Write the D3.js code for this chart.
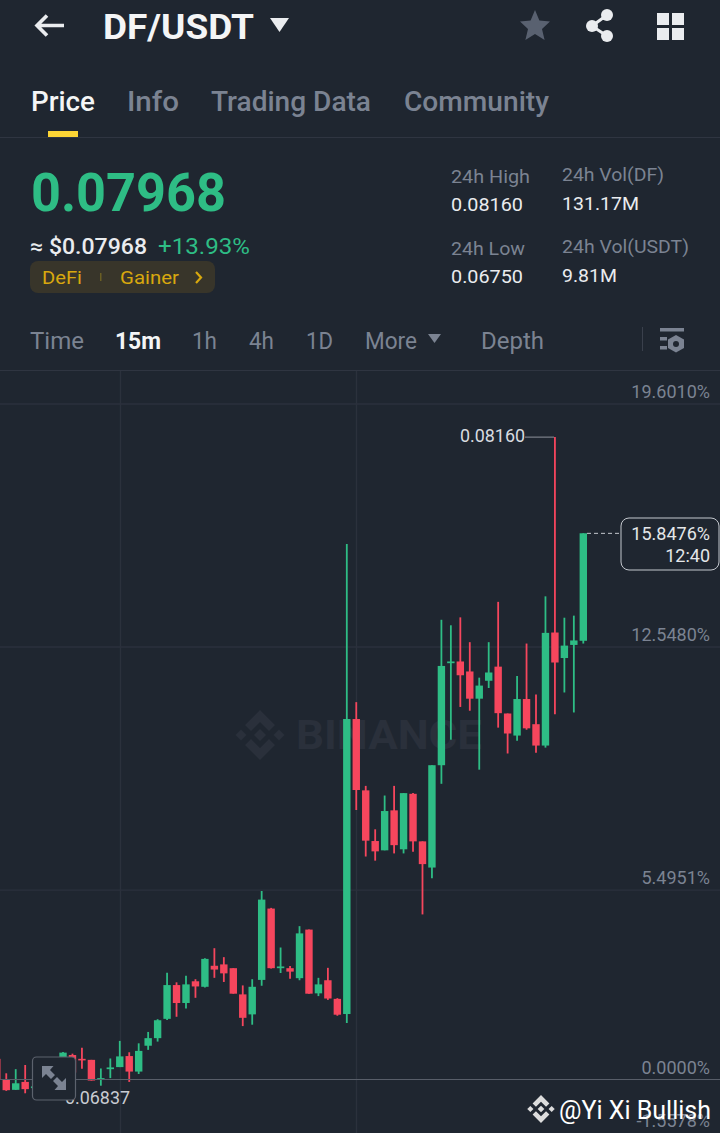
<!DOCTYPE html>
<html><head><meta charset="utf-8">
<script src="https://cdn.jsdelivr.net/npm/d3@7"></script>
<style>html,body{margin:0;padding:0;background:#1f2630;overflow:hidden}svg{display:block}text{font-family:Roboto,"Noto Sans",sans-serif}</style>
</head><body><svg id="c" width="720" height="1133"></svg>
<script>
// Candle values, % change from the chart's baseline
const opens =[.60,-.01,-.30,-.07,-.25,-.20,.15,.30,.71,.60,.57,0,.30,.36,.68,.23,.98,1.20,1.76,2.74,2.22,2.85,2.69,3.30,3.34,3.23,2.47,1.89,2.89,4.96,3.23,3.23,2.94,4.35,2.50,2.88,2.34,1.90,10.46,8.39,6.92,6.65,7.81,6.68,8.29,6.91,6.15,9.12,12.08,12.13,11.84,11.05,11.57,11.98,10.62,9.98,11.04,10.31,9.69,12.97,12.23,12.61,12.73];
const closes=[-.01,-.31,-.11,-.28,-.20,.15,.30,.78,.20,.57,-.03,.04,.35,.67,.23,.83,1.20,1.72,2.74,2.22,2.76,2.70,3.50,3.19,3.08,2.49,1.79,2.69,5.22,3.23,3.28,3.13,4.24,2.49,2.76,2.35,1.88,10.46,8.40,6.93,6.62,7.79,6.80,8.31,6.91,6.25,9.12,12.00,12.13,11.73,11.05,11.43,11.81,10.63,10.04,11.04,10.19,9.69,12.96,12.10,12.59,12.74,15.85];
const highs =[.60,.18,.30,.42,-.10,.30,.50,.80,.75,.92,.57,.32,.61,1.12,.79,1.05,1.38,1.75,3.10,2.82,3.01,2.91,3.52,3.81,3.55,3.23,2.73,2.91,5.47,4.98,3.83,3.29,4.45,4.35,2.95,3.24,2.36,15.54,10.95,8.52,7.26,8.24,8.52,8.31,8.31,6.91,9.12,13.34,13.18,13.41,12.69,11.66,12.69,13.86,10.62,11.71,12.65,11.17,14.02,18.64,13.40,13.46,15.85];
const lows  =[-.01,-.33,-.30,-.40,-.30,-.25,.10,.20,.10,.31,-.03,-.18,.04,.36,-.07,.16,.86,1.10,1.73,1.82,2.06,2.37,2.67,2.95,2.83,2.49,1.55,1.59,2.72,3.22,3.09,2.92,2.88,2.49,2.42,2.31,1.85,1.64,7.82,6.47,6.35,6.65,6.56,6.56,6.61,4.79,5.84,8.58,9.86,10.81,10.70,8.99,11.36,10.21,9.46,9.83,10.15,9.48,9.63,10.60,11.23,10.65,12.65];
const percentTicks=[19.6010,12.5480,5.4951,0,-1.5578];
const tickLabels=["19.6010%","12.5480%","5.4951%","0.0000%","-1.5578%"];
const lastPct=15.8476, highPct=18.64;

const BG="#1f2630",GREEN="#2ebd85",RED="#f6465d",GRAY="#7b8392",WHITE="#eaecef",GRID="#2b313c";
const svg=d3.select("#c");
svg.append("rect").attr("width",720).attr("height",1133).attr("fill",BG);
const x=d3.scaleLinear().domain([0,62]).range([-3.2,583.3]);
const y=d3.scaleLinear().domain([0,19.601]).range([1079.5,404]);
const bodyW=7.4;

function t(px,py,str,size,fill,weight,w,anchor){
  const e=svg.append("text").attr("x",px).attr("y",py).text(str).attr("font-size",size).attr("fill",fill).attr("font-weight",weight||400);
  if(w)e.attr("textLength",w).attr("lengthAdjust","spacingAndGlyphs");
  if(anchor)e.attr("text-anchor",anchor);
  return e;
}
// ---- header
svg.append("path").attr("d","M64 25.5H38M47 15.5L37 25.5L47 35.5").attr("fill","none").attr("stroke",WHITE).attr("stroke-width",3.6);
t(103,39,"DF/USDT",35,"#f4f5f6",700,151);
svg.append("path").attr("d","M270 18H289L279.5 32Z").attr("fill",WHITE);
svg.append("path").attr("d","M535 10L539.4 20.6L550 21.6L542 29L544.6 40L535 34L525.4 40L528 29L520 21.6L530.6 20.6Z").attr("fill","#596170");
const share=svg.append("g").attr("fill",WHITE);
[[607,15],[592,26],[607,36]].forEach(p=>share.append("circle").attr("cx",p[0]).attr("cy",p[1]).attr("r",6));
svg.append("path").attr("d","M607 15L592 26L607 36").attr("fill","none").attr("stroke",WHITE).attr("stroke-width",3);
[[657,13],[672,13],[657,28],[672,28]].forEach(p=>svg.append("rect").attr("x",p[0]).attr("y",p[1]).attr("width",12).attr("height",12).attr("fill",WHITE));
t(31,111,"Price",28,"#f4f5f6",500,64);
t(127,111,"Info",28,GRAY,500,52);
t(211,111,"Trading Data",28,GRAY,500,160);
t(404,111,"Community",28,GRAY,500,145);
svg.append("rect").attr("x",48).attr("y",131).attr("width",30).attr("height",6).attr("fill","#fcd535");
svg.append("rect").attr("x",0).attr("y",137).attr("width",720).attr("height",1).attr("fill","#2f3541");
// ---- price block
t(31,211,"0.07968",54,GREEN,700,195);
t(30,254,"≈ $0.07968",22,WHITE,500,117);
t(158,254,"+13.93%",22,GREEN,400,92);
svg.append("rect").attr("x",30).attr("y",261).attr("width",185).attr("height",32).attr("rx",8).attr("fill","#38352a");
t(42,284,"DeFi",19,"#d8a80e",400,40);
svg.append("rect").attr("x",100).attr("y",273).attr("width",1.5).attr("height",8).attr("fill","#6b5f24");
t(120,284,"Gainer",19,"#d8a80e",400,59);
svg.append("path").attr("d","M196 272L201 277.5L196 283").attr("fill","none").attr("stroke","#d8a80e").attr("stroke-width",2.2);
t(451,183,"24h High",19,GRAY,400,79);
t(451,211,"0.08160",18,WHITE,400,72);
t(562,181,"24h Vol(DF)",19,GRAY,400,102);
t(562,210,"131.17M",18,WHITE,400,77);
t(451,255,"24h Low",19,GRAY,400,74);
t(451,283,"0.06750",18,WHITE,400,72);
t(562,253,"24h Vol(USDT)",19,GRAY,400,127);
t(562,282,"9.81M",18,WHITE,400,55);
// ---- interval row
t(30,349,"Time",24,GRAY,400,54);
t(115,349,"15m",24,"#f4f5f6",700,46);
t(192,349,"1h",24,GRAY,400,25);
t(249,349,"4h",24,GRAY,400,25);
t(306,349,"1D",24,GRAY,400,27);
t(365,349,"More",24,GRAY,400,52);
svg.append("path").attr("d","M428 334H441L434.5 343Z").attr("fill",GRAY);
t(481,349,"Depth",24,GRAY,400,63);
svg.append("rect").attr("x",642).attr("y",327).attr("width",1).attr("height",24).attr("fill","#3a404c");
svg.append("rect").attr("x",660).attr("y",328).attr("width",24).attr("height",3.5).attr("fill",GRAY);
svg.append("rect").attr("x",660).attr("y",337).attr("width",7).attr("height",3.5).attr("fill",GRAY);
svg.append("rect").attr("x",660).attr("y",346).attr("width",7).attr("height",3.5).attr("fill",GRAY);
svg.append("path").attr("d","M676 335L684 339.5V348L676 352.5L668 348V339.5Z").attr("fill",GRAY);
svg.append("circle").attr("cx",676).attr("cy",344).attr("r",3).attr("fill",BG);
svg.append("rect").attr("x",0).attr("y",370).attr("width",720).attr("height",1).attr("fill","#2f3541");
// ---- grid
const grid=svg.append("g");
[120.5,356.5].forEach(v=>grid.append("line").attr("x1",v).attr("x2",v).attr("y1",371).attr("y2",1133).attr("stroke",GRID).attr("stroke-width",1.4));
percentTicks.slice(0,3).forEach(v=>grid.append("line").attr("x1",0).attr("x2",720).attr("y1",y(v)).attr("y2",y(v)).attr("stroke",GRID).attr("stroke-width",1.4));
// ---- logo: two chevrons, two side diamonds, a centre diamond
const logo=(g,cx,cy,s)=>{
  const poly=pts=>g.append("path").attr("d","M"+pts.map(p=>`${cx+p[0]*s} ${cy+p[1]*s}`).join("L")+"Z");
  poly([[0,-1],[.6,-.4],[.36,-.16],[0,-.52],[-.36,-.16],[-.6,-.4]]);
  poly([[0,1],[.6,.4],[.36,.16],[0,.52],[-.36,.16],[-.6,.4]]);
  const d=(dx,r)=>poly([[dx,-r],[dx+r,0],[dx,r],[dx-r,0]]);
  d(0,.24);d(-.76,.22);d(.76,.22);
};
// ---- watermark
const wm=svg.append("g").attr("fill","#2a303b");
logo(wm,260,735,25);
wm.append("text").attr("x",296).attr("y",749).text("BINANCE").attr("font-size",40).attr("font-weight",700).attr("textLength",186).attr("lengthAdjust","spacingAndGlyphs");
// ---- candles
const idx=d3.range(opens.length);
const colour=i=>closes[i]>=opens[i]?GREEN:RED;
const candles=svg.append("g");
candles.selectAll("line").data(idx).join("line")
  .attr("x1",x).attr("x2",x).attr("y1",i=>y(highs[i])).attr("y2",i=>y(lows[i]))
  .attr("stroke",colour).attr("stroke-width",1.8);
candles.selectAll("rect").data(idx).join("rect")
  .attr("x",i=>x(i)-bodyW/2).attr("width",bodyW)
  .attr("y",i=>y(Math.max(opens[i],closes[i])))
  .attr("height",i=>Math.max(1.6,Math.abs(y(opens[i])-y(closes[i]))))
  .attr("fill",colour);
// ---- zero line over candles
svg.append("line").attr("x1",0).attr("x2",720).attr("y1",y(0)).attr("y2",y(0)).attr("stroke","#585e69").attr("stroke-width",1.2);
// ---- axis labels
percentTicks.forEach((v,i)=>t(710,y(v)-6,tickLabels[i],18,GRAY,400,null,"end"));
// ---- high marker
svg.append("line").attr("x1",525).attr("x2",554).attr("y1",y(highPct)).attr("y2",y(highPct)).attr("stroke","#8d929b").attr("stroke-width",1);
t(460,442,"0.08160",18,"#d8dce0",400,65);
// ---- last price box
svg.append("line").attr("x1",587).attr("x2",621).attr("y1",y(lastPct)).attr("y2",y(lastPct)).attr("stroke","#c4c8ce").attr("stroke-width",1).attr("stroke-dasharray","4 3");
svg.append("rect").attr("x",621).attr("y",518).attr("width",98).attr("height",52).attr("rx",8).attr("fill",BG).attr("stroke","#c4c8ce").attr("stroke-width",1);
t(710,540,"15.8476%",18,"#e4e6e9",400,null,"end");
t(710,562,"12:40",18,"#e4e6e9",400,null,"end");
// ---- low label + expand button
t(65,1104,"0.06837",18,"#c8ccd2",400,65);
svg.append("rect").attr("x",32.5).attr("y",1057).attr("width",43).attr("height",43).attr("rx",4).attr("fill",BG).attr("stroke","#5c626d").attr("stroke-width",1.2);
svg.append("path").attr("d","M42 1066H53.5L50 1070L55 1075L51 1079L46 1074L42 1078Z").attr("fill","#7b8392");
svg.append("path").attr("d","M66 1090H54.5L58 1086L53 1081L57 1077L62 1082L66 1078Z").attr("fill","#7b8392");
// ---- credit
const cr=svg.append("g").attr("fill","#dcdcdc");
logo(cr,541,1109,14);
t(559,1119,"@Yi Xi Bullish",26,"#fff",400,152);
</script></body></html>
